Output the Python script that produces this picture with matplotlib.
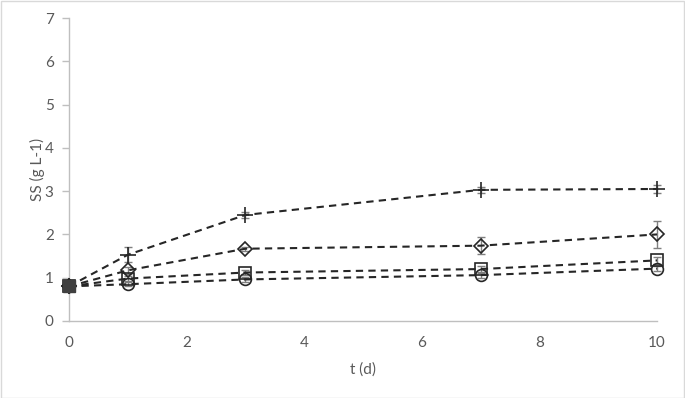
import matplotlib
matplotlib.use("Agg")
import matplotlib.pyplot as plt
from matplotlib.patches import Rectangle

plt.rcParams['font.family'] = ['Lato', 'DejaVu Sans']

t = [0, 1, 3, 7, 10]
ss_plus = [0.80, 1.53, 2.45, 3.03, 3.05]
err_plus = [0.03, 0.17, 0.06, 0.07, 0.10]
ss_diamond = [0.80, 1.17, 1.67, 1.74, 2.00]
err_diamond = [0.03, 0.08, 0.05, 0.20, 0.32]
ss_square = [0.80, 0.98, 1.12, 1.20, 1.40]
err_square = [0.03, 0.06, 0.06, 0.07, 0.08]
ss_circle = [0.80, 0.85, 0.96, 1.06, 1.21]
err_circle = [0.03, 0.05, 0.05, 0.06, 0.06]

series = [
    (ss_plus, err_plus, '+'),
    (ss_diamond, err_diamond, 'D'),
    (ss_square, err_square, 's'),
    (ss_circle, err_circle, 'o'),
]

fig = plt.figure(figsize=(6.85, 3.98), dpi=100)
ax = fig.add_axes([69/685, 77/398, (657-69)/685, (321-18)/398])

line_c = '#262626'
for y, e, m in series:
    ax.errorbar(t, y, yerr=e, fmt='none', ecolor='#7f7f7f', elinewidth=1.0,
                capsize=3, capthick=1.0, zorder=2, clip_on=False)
    ms = 11 if m == '+' else (7 if m == 'D' else 8.5)
    ax.plot(t, y, linestyle=(0, (3.5, 2.5)), color=line_c, linewidth=1.5,
            marker=m, markersize=ms, markerfacecolor='none',
            markeredgecolor=line_c, markeredgewidth=1.2, zorder=3,
            clip_on=False)

# dark filled start marker (overlapping markers at t=0)
ax.plot(t[:1], ss_square[:1], marker='s', markersize=8.5, color='#404040',
        linestyle='none', zorder=4, clip_on=False)

ax.set_xlim(0, 10)
ax.set_ylim(0, 7)
ax.set_xticks([0, 2, 4, 6, 8, 10])
ax.set_yticks(range(0, 8))
for s in ['top', 'right']:
    ax.spines[s].set_visible(False)
for s in ['left', 'bottom']:
    ax.spines[s].set_color('#bfbfbf')
    ax.spines[s].set_linewidth(1.0)
ax.tick_params(axis='y', direction='out', length=5, width=1.0, color='#bfbfbf',
               labelcolor='#595959', labelsize=11, pad=6)
ax.tick_params(axis='x', length=0, labelcolor='#595959', labelsize=11, pad=11)
ax.set_xlabel('t (d)', color='#595959', fontsize=11, labelpad=9)
ax.set_ylabel('SS (g L-1)', color='#595959', fontsize=11, labelpad=0)

fig.patches.append(Rectangle((0.5/685, 0.5/398), 683.5/685, 396.5/398,
                             transform=fig.transFigure, fill=False,
                             edgecolor='#d9d9d9', linewidth=1.0))

fig.savefig('out.png', dpi=100)
